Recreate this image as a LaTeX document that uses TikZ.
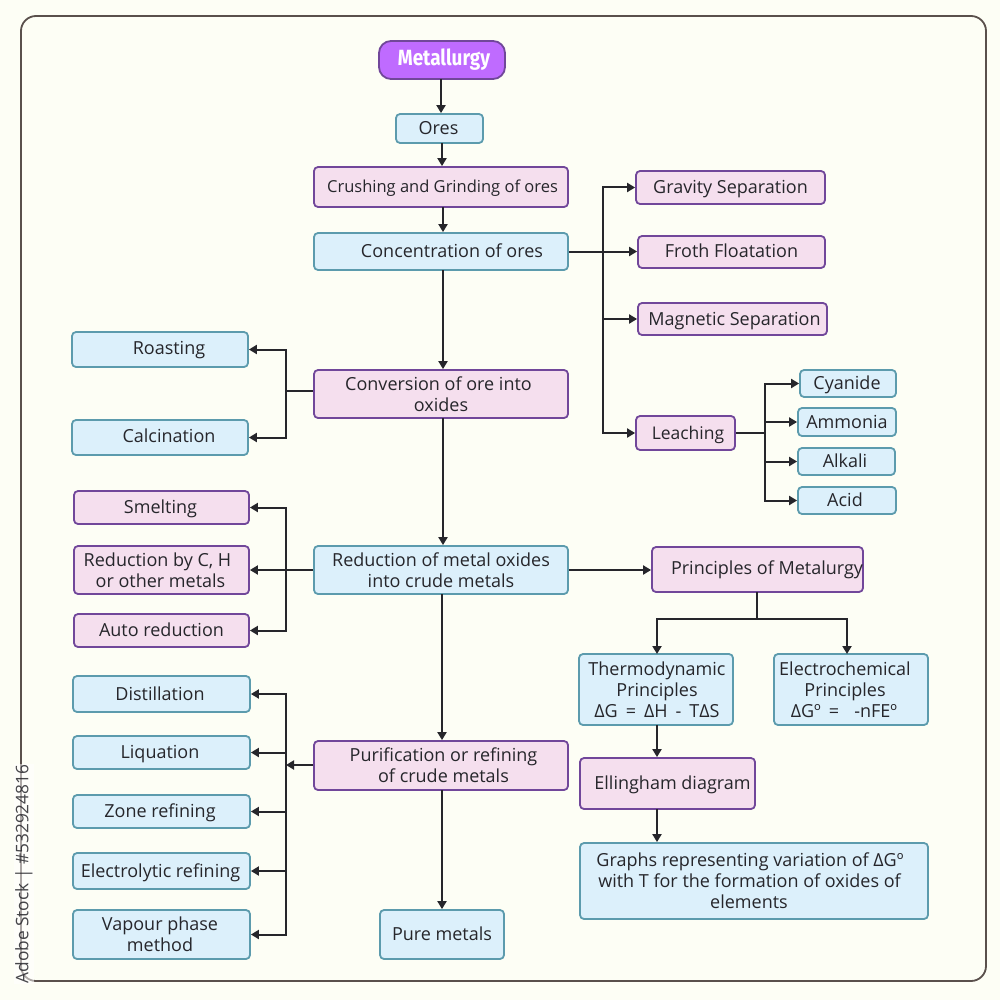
\documentclass[tikz,border=0pt]{standalone}
\usepackage{fontspec}
\setmainfont{Open Sans}
\newfontfamily\titlefont[FakeStretch=0.86]{Fira Sans}
\usetikzlibrary{arrows.meta,calc}
\definecolor{pagebg}{HTML}{FDFEF5}
\definecolor{framec}{HTML}{5A504C}
\definecolor{bluefill}{HTML}{DCF0FB}
\definecolor{blueline}{HTML}{5C9BAD}
\definecolor{pinkfill}{HTML}{F5DFEE}
\definecolor{pinkline}{HTML}{71479A}
\definecolor{purplefill}{HTML}{BF6BFF}
\definecolor{inkc}{HTML}{26262B}
\newcommand{\tst}{\rule[-4.5pt]{0pt}{21pt}}
\newcommand{\tsu}{\rule[-6pt]{0pt}{21pt}}
\newcommand{\sh}[1]{\hspace*{#1pt}}
\tikzset{
  boxbase/.style={rounded corners=4pt,line width=1.8pt,inner sep=0pt,align=center,text=inkc,
    font=\fontsize{18}{21}\selectfont},
  bluebox/.style={boxbase,draw=blueline,fill=bluefill},
  pinkbox/.style={boxbase,draw=pinkline,fill=pinkfill},
  titlebox/.style={boxbase,draw=pinkline,fill=purplefill,rounded corners=12pt,text=white,
    font=\titlefont\bfseries\fontsize{22}{24}\selectfont},
  arr/.style={draw=inkc,line width=2pt,-{Triangle[length=8pt,width=9pt]}},
  link/.style={draw=inkc,line width=2pt}
}
% \bx{style}{name}{x1}{y1}{x2}{y2}{text}
\newcommand{\bx}[7]{%
  \pgfmathsetmacro{\bxw}{#5-#3}\pgfmathsetmacro{\bxh}{#6-#4}%
  \pgfmathsetmacro{\bxa}{(#3+#5)/2}\pgfmathsetmacro{\bxb}{(#4+#6)/2}%
  \node[#1,minimum width=\bxw pt,minimum height=\bxh pt] (#2) at (\bxa,\bxb) {#7};}
\begin{document}
\begin{tikzpicture}[x=1pt,y=-1pt]
\useasboundingbox (0,0) rectangle (1000,1000);
\fill[pagebg] (0,0) rectangle (1000,1000);
\draw[framec,line width=1.8pt,rounded corners=15pt] (21,16) rectangle (986,981);
\node[rotate=90,text=inkc,font=\fontsize{17.3}{20}\selectfont,inner sep=1pt,fill=white,fill opacity=0.5,text opacity=0.85] (stock) at (24,874) {Adobe Stock | \#532924816};

\bx{titlebox}{metal}{379}{41}{505}{79}{\sh{4}Metallurgy}
\bx{bluebox}{ores}{396}{114}{483}{143}{\tst\sh{-2}Ores}
\bx{pinkbox}{crush}{314}{167}{568}{207}{\fontsize{16.5}{21}\selectfont\tst\sh{3}Crushing and Grinding of ores}
\bx{bluebox}{conc}{314}{233}{568}{270}{\tst\sh{22}Concentration of ores}
\bx{pinkbox}{grav}{636}{171}{825}{204}{\tst Gravity Separation}
\bx{pinkbox}{froth}{638}{236}{825}{268}{\tst Froth Floatation}
\bx{pinkbox}{magn}{638}{303}{827}{335}{\tst\sh{4}Magnetic Separation}
\bx{pinkbox}{leach}{636}{416}{735}{450}{\fontsize{17.5}{21}\selectfont\tst\sh{5}Leaching}
\bx{bluebox}{cyan}{800}{370}{896}{397}{\tst\sh{-2}Cyanide}
\bx{bluebox}{ammo}{798}{408}{896}{436}{\tst Ammonia}
\bx{bluebox}{alka}{798}{448}{895}{475}{\tst\sh{-3}Alkali}
\bx{bluebox}{acid}{798}{487}{896}{514}{\tst\sh{-4}Acid}
\bx{bluebox}{roast}{72}{332}{248}{367}{\tsu\sh{18}Roasting}
\bx{bluebox}{calc}{72}{420}{248}{455}{\tsu\sh{18}Calcination}
\bx{pinkbox}{conv}{314}{370}{568}{418}{\sh{-5}Conversion of ore into\\oxides}
\bx{pinkbox}{smelt}{74}{491}{249}{524}{\tst\sh{-2}Smelting}
\bx{pinkbox}{redby}{74}{546}{249}{594}{\sh{-8}Reduction by C, H\\\sh{-2}or other metals}
\bx{pinkbox}{auto}{74}{614}{249}{647}{\tst Auto reduction}
\bx{bluebox}{redu}{314}{546}{568}{594}{Reduction of metal oxides\\into crude metals}
\bx{pinkbox}{prin}{652}{547}{863}{592}{\tsu\sh{19}Principles of Metalurgy}
\bx{bluebox}{thermo}{579}{654}{733}{725}{\sh{2}Thermodynamic\\\sh{2}Principles\\\sh{2}ΔG\hspace{8pt}=\hspace{8pt}ΔH\hspace{8pt}-\hspace{8pt}TΔS}
\bx{bluebox}{electro}{774}{654}{928}{725}{\sh{-12}Electrochemical\\\sh{-12}Principles\\\sh{-14}ΔGº\hspace{8pt}=\hspace{15pt}-nFEº}
\bx{pinkbox}{elling}{580}{758}{755}{809}{\tst\sh{10}Ellingham diagram}
\bx{bluebox}{graphs}{580}{843}{928}{919}{\sh{-8}Graphs representing variation of ΔGº\\\sh{-9}with T for the formation of oxides of\\\sh{-10}elements}
\bx{bluebox}{dist}{73}{676}{250}{712}{\tst\sh{-3}Distillation}
\bx{bluebox}{liqu}{73}{736}{250}{769}{\tst\sh{-3}Liquation}
\bx{bluebox}{zone}{73}{795}{250}{828}{\tst\sh{-3}Zone refining}
\bx{bluebox}{elec}{73}{853}{250}{889}{\tst\sh{-2}Electrolytic refining}
\bx{bluebox}{vapo}{73}{910}{250}{959}{\sh{-3}Vapour phase\\\sh{-3}method}
\bx{pinkbox}{puri}{314}{741}{568}{790}{\sh{5}Purification or refining\\\sh{5}of crude metals}
\bx{bluebox}{pure}{380}{910}{504}{959}{\tst Pure metals}

% main column
\coordinate (c1) at (441,79);
\coordinate (c2) at (442,143);
\coordinate (c3) at (443,207);
\coordinate (c4) at (443,270);
\coordinate (c5) at (443,418);
\coordinate (c6) at (442,594);
\coordinate (c7) at (442,790);
\draw[arr] (c1) -- (c1 |- ores.north);
\draw[arr] (c2) -- (c2 |- crush.north);
\draw[arr] (c3) -- (c3 |- conc.north);
\draw[arr] (c4) -- (c4 |- conv.north);
\draw[arr] (c5) -- (c5 |- redu.north);
\draw[arr] (c6) -- (c6 |- puri.north);
\draw[arr] (c7) -- (c7 |- pure.north);

% separation branch
\coordinate (sepj) at (603,252);
\coordinate (concout) at (conc.east);
\draw[arr] (concout) -- (concout -| froth.west);
\draw[arr] (sepj) |- (grav.west);
\draw[arr] (sepj) |- (magn.west);
\draw[arr] (sepj) |- (leach.west);

% leaching branch
\coordinate (leaj) at (765,433);
\draw[link] (leach.east) -- (leaj);
\draw[arr] (leaj) |- (cyan.west);
\draw[arr] (leaj) |- (ammo.west);
\draw[arr] (leaj) |- (alka.west);
\draw[arr] (leaj) |- (acid.west);

% conversion branch
\coordinate (convj) at (286,391);
\draw[link] (conv.west |- convj) -- (convj);
\draw[arr] (convj) |- (roast.east);
\draw[arr] (convj) |- (calc.east);

% reduction branch
\coordinate (redj) at (286,570);
\draw[arr] (redu.west) -- (redby.east);
\draw[arr] (redj) |- (smelt.east);
\draw[arr] (redj) |- (auto.east);

% principles
\coordinate (prinj) at (757,619);
\coordinate (prout) at (757,592);
\coordinate (th) at (657,654);
\coordinate (el) at (847,654);
\draw[link] (prout) -- (prinj);
\draw[arr] (prinj) -| (th);
\draw[arr] (prinj) -| (el);
\draw[arr] (redu.east) -- (redu.east -| prin.west);
\coordinate (t1) at (657,725);
\draw[arr] (t1) -- (t1 |- elling.north);
\coordinate (t2) at (657,809);
\draw[arr] (t2) -- (t2 |- graphs.north);

% refining branch
\coordinate (refj) at (286,765);
\draw[arr] (puri.west |- refj) -- (refj);
\draw[arr] (refj) |- (dist.east);
\draw[arr] (refj) |- (liqu.east);
\draw[arr] (refj) |- (zone.east);
\draw[arr] (refj) |- (elec.east);
\draw[arr] (refj) |- (vapo.east);
\end{tikzpicture}
\end{document}
